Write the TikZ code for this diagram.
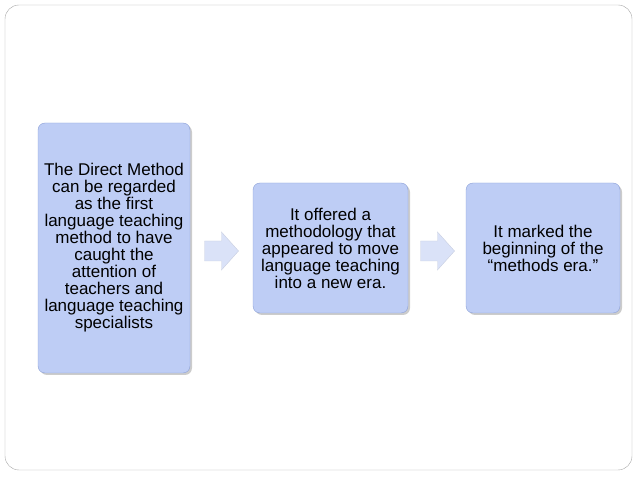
\documentclass[tikz,border=0pt]{standalone}
\usepackage{fontspec}
\setmainfont{Liberation Sans}
\usetikzlibrary{shadows}
\definecolor{boxfill}{RGB}{190,205,245}
\definecolor{boxline}{RGB}{140,160,215}
\definecolor{arrowfill}{RGB}{218,226,248}
\tikzset{
  step box/.style={draw=boxline,rounded corners=7pt,fill=boxfill,
    drop shadow={shadow xshift=2pt,shadow yshift=-2pt,opacity=0.4},
    align=center,font=\fontsize{17}{17}\selectfont,inner sep=1pt},
  step arrow/.style={fill=arrowfill,draw=arrowfill!80!gray}
}
\newcommand\steparrow[1]{%
  \draw[step arrow,shift={(#1)}] (-17,-10) -- (0,-10) -- (0,-19) -- (17,0)
    -- (0,19) -- (0,10) -- (-17,10) -- cycle;}
\begin{document}
\begin{tikzpicture}[x=1pt,y=-1pt]
  \useasboundingbox (0,0) rectangle (638,478);
  \draw[gray!70,rounded corners=14pt] (5,5) rectangle (632,470);
  % steps
  \node[step box,minimum width=152pt,minimum height=250pt] (first) at (114,248)
    {The Direct Method\\can be regarded\\as the first\\language teaching\\method to have\\caught the\\attention of\\teachers and\\language teaching\\specialists};
  \node[step box,minimum width=155pt,minimum height=130pt] (second) at (330.5,248)
    {It offered a\\methodology that\\appeared to move\\language teaching\\into a new era.};
  \node[step box,minimum width=154pt,minimum height=130pt] (third) at (543,248)
    {It marked the\\beginning of the\\“methods era.”};
  % arrows between steps
  \coordinate (a1) at (221.5,251);
  \coordinate (a2) at (437.5,251);
  \steparrow{a1}
  \steparrow{a2}
\end{tikzpicture}
\end{document}
